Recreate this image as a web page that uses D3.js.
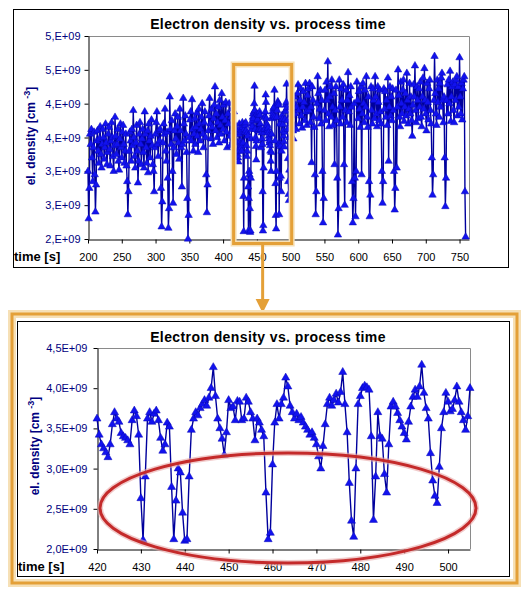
<!DOCTYPE html>
<html>
<head>
<meta charset="utf-8">
<style>
    body { margin: 0; background: #fff; }
    svg { display: block; font-family: 'Liberation Sans', Arial, sans-serif; }
</style>
</head>
<body>
<div id="chart"></div>
<script src="https://cdn.jsdelivr.net/npm/d3@7/dist/d3.min.js"></script>
<script>
    // electron density in 1e9 cm^-3
    // overview run, one reading per second, 200 s .. 419 s
    var overview_start = [
        3.00, 2.30, 2.75, 3.55, 3.40, 3.62, 3.20, 2.85, 3.35, 3.58,
        2.95, 2.40, 2.80, 3.45, 3.60, 3.30, 3.12, 3.48, 3.66, 3.25,
        3.05, 3.40, 3.62, 3.50, 3.18, 3.35, 3.70, 3.42, 3.10, 3.28,
        3.55, 3.65, 3.32, 3.08, 3.45, 3.72, 3.50, 3.22, 3.00, 3.38,
        3.80, 3.52, 3.25, 3.40, 3.62, 3.15, 3.02, 3.48, 3.70, 3.35,
        3.20, 3.58, 3.68, 3.40, 3.12, 3.30, 3.55, 3.08, 2.85, 2.36,
        2.70, 3.30, 3.58, 3.45, 3.15, 3.62, 3.38, 3.90, 3.50, 3.22,
        3.05, 3.42, 3.68, 3.30, 2.83, 3.15, 3.55, 3.72, 3.40, 3.10,
        3.48, 3.62, 3.28, 3.05, 3.88, 3.55, 3.35, 3.12, 3.60, 2.98,
        3.70, 3.45, 3.20, 3.52, 3.76, 3.38, 3.10, 3.00, 2.70, 3.35,
        3.55, 3.72, 3.88, 3.40, 3.22, 3.60, 3.45, 3.62, 2.75, 2.18,
        2.55, 3.42, 3.70, 3.55, 3.92, 3.30, 3.15, 3.58, 2.90, 2.16,
        2.45, 4.10, 3.62, 3.40, 3.75, 3.00, 2.53, 3.35, 3.60, 3.85,
        3.48, 3.25, 3.66, 3.80, 3.42, 3.18, 3.92, 3.60, 3.35, 2.77,
        3.40, 4.08, 3.70, 3.45, 3.82, 3.55, 3.28, 2.60, 2.00, 2.35,
        3.50, 3.76, 3.88, 3.45, 4.06, 3.62, 3.30, 3.55, 3.78, 3.40,
        3.65, 3.86, 3.52, 3.28, 3.92, 3.70, 3.45, 3.62, 3.80, 4.00,
        3.55, 3.35, 3.72, 3.88, 3.50, 2.95, 2.39, 2.80, 3.60, 3.82,
        4.08, 3.70, 3.48, 3.92, 3.65, 3.40, 3.78, 3.98, 4.25, 3.60,
        3.85, 3.50, 3.72, 3.95, 3.42, 4.05, 3.68, 3.55, 4.15, 3.80,
        3.62, 3.98, 3.45, 3.75, 4.02, 3.58, 3.35, 3.85, 3.70, 4.00,
        3.52, 3.38, 3.80, 3.92, 3.60, 3.45, 3.88, 3.70, 3.55, 3.45
    ];

    // zoomed window, one reading every 0.5 s, 420 s .. 505 s
    var zoom_density = [
        3.62, 3.42, 3.30, 3.25, 3.20, 3.14, 3.30, 3.55, 3.70, 3.62,
        3.58, 3.44, 3.40, 3.38, 3.35, 3.30, 3.60, 3.72, 3.65, 3.42,
        2.63, 2.11, 2.90, 3.62, 3.70, 3.58, 3.68, 3.72, 3.60, 3.38,
        3.22, 3.30, 3.57, 3.52, 2.77, 2.12, 2.60, 3.00, 2.95, 2.45,
        2.10, 2.12, 2.90, 3.48, 3.62, 3.70, 3.66, 3.75, 3.80, 3.85,
        3.78, 3.88, 4.00, 4.26, 3.90, 3.62, 3.50, 3.37, 3.17, 3.45,
        3.85, 3.75, 3.77, 3.60, 3.84, 3.83, 3.60, 3.62, 3.88, 3.83,
        3.70, 3.62, 3.35, 3.62, 3.57, 3.48, 3.40, 2.70, 2.12, 2.20,
        3.05, 3.57, 3.80, 3.62, 3.80, 3.88, 4.13, 4.02, 3.78, 3.70,
        3.62, 3.68, 3.60, 3.64, 3.57, 3.52, 3.48, 3.42, 3.45, 3.38,
        3.30, 3.15, 3.00, 3.28, 3.55, 3.80, 3.88, 3.78, 3.85, 3.93,
        3.82, 3.95, 4.20, 3.80, 3.45, 2.82, 2.35, 2.15, 3.00, 3.80,
        3.90, 4.00, 4.03, 4.01, 3.98, 3.40, 2.36, 2.90, 3.70, 3.40,
        3.37, 2.93, 2.70, 3.30, 3.77, 3.83, 3.77, 3.69, 3.60, 3.52,
        3.44, 3.36, 3.58, 3.77, 3.89, 3.98, 3.89, 4.02, 4.29, 3.94,
        3.75, 3.62, 3.19, 2.85, 2.66, 2.57, 3.02, 3.50, 3.70, 3.94,
        3.83, 3.71, 3.74, 3.85, 4.02, 3.83, 3.70, 3.60, 3.48, 3.65,
        4.00
    ];

    // overview run, one reading per second, 506 s .. 759 s
    var overview_end = [
        4.10, 3.85, 3.62, 3.95,
        4.15, 4.28, 3.90, 3.70, 4.05, 4.22, 3.82, 3.64, 3.95, 4.18,
        4.02, 3.75, 4.30, 3.88, 3.68, 4.12, 4.22, 3.90, 4.30, 3.72,
        3.95, 3.13, 4.25, 4.05, 3.80, 3.65, 2.95, 2.36, 2.70, 4.00,
        4.40, 4.15, 3.78, 3.92, 4.20, 3.70, 4.05, 3.00, 2.24, 2.60,
        3.90, 4.20, 3.75, 4.32, 4.05, 4.62, 3.85, 3.66, 4.10, 4.25,
        3.80, 4.35, 3.95, 3.68, 4.15, 3.10, 3.90, 4.25, 3.75, 2.90,
        2.06, 2.45, 4.35, 3.95, 3.70, 4.22, 4.05, 3.80, 4.28, 3.10,
        2.50, 3.90, 4.20, 3.72, 4.05, 4.46, 3.88, 4.12, 3.68, 4.25,
        3.95, 2.85, 2.24, 2.60, 4.00, 2.90, 2.33, 3.00, 4.32, 4.05,
        3.78, 4.18, 3.92, 3.65, 4.25, 2.95, 3.85, 4.30, 4.00, 3.72,
        4.20, 3.95, 4.40, 3.80, 3.65, 4.10, 2.85, 2.33, 2.65, 4.25,
        3.90, 3.70, 4.22, 4.05, 3.78, 4.40, 4.10, 3.85, 3.66, 4.25,
        4.02, 3.75, 4.20, 3.88, 3.70, 3.00, 2.53, 2.85, 4.22, 3.92,
        4.18, 3.80, 4.05, 3.68, 4.38, 3.15, 3.95, 4.25, 3.82, 4.10,
        3.75, 4.22, 3.90, 3.00, 2.43, 2.75, 4.20, 3.05, 3.95, 4.50,
        4.12, 3.80, 3.66, 4.32, 4.00, 3.85, 4.20, 4.35, 3.74, 3.95,
        4.15, 3.82, 4.45, 4.05, 3.70, 3.92, 4.30, 3.85, 4.10, 3.75,
        3.52, 3.98, 4.28, 4.10, 4.56, 3.90, 3.72, 4.25, 4.05, 3.78,
        4.22, 3.95, 4.32, 3.80, 3.66, 4.10, 4.38, 3.92, 4.52, 4.05,
        3.85, 3.60, 4.30, 4.02, 3.76, 4.22, 4.35, 3.90, 3.70, 3.20,
        2.65, 2.95, 4.05, 4.70, 4.15, 3.85, 3.68, 4.35, 4.02, 4.22,
        3.80, 4.30, 3.95, 4.38, 4.45, 4.05, 3.72, 4.10, 3.20, 2.48,
        2.90, 4.05, 4.28, 3.85, 4.35, 4.00, 4.48, 3.74, 4.10, 4.25,
        4.32, 3.90, 3.72, 4.28, 4.05, 4.35, 4.40, 3.82, 4.25, 3.95,
        4.68, 4.10, 3.85, 4.30, 3.76, 4.22, 4.35, 4.40, 2.70, 2.03
    ];

    var overview_start_t = 200,
        zoom_start_t = 420,
        zoom_step = 0.5,
        overview_end_t = 506;

    var top_x_ticks = [200, 250, 300, 350, 400, 450, 500, 550, 600, 650, 700, 750];
    var top_y_ticks = [2, 2.5, 3, 3.5, 4, 4.5, 5];
    var top_y_labels = ['2,E+09', '3,E+09', '3,E+09', '4,E+09', '4,E+09', '5,E+09', '5,E+09'];

    var zoom_x_ticks = [420, 430, 440, 450, 460, 470, 480, 490, 500];
    var zoom_y_ticks = [2, 2.5, 3, 3.5, 4, 4.5];
    var zoom_y_labels = ['2,0E+09', '2,5E+09', '3,0E+09', '3,5E+09', '4,0E+09', '4,5E+09'];

    var chart_title = 'Electron density vs. process time';

    var orange = '#e4a038',
        pale_orange = '#f6e0b6',
        navy = '#000080',
        line_blue = '#00009c',
        marker_fill = '#1212ee';

    var zoom_points = zoom_density.map(function(v, i){ return {t: zoom_start_t + i * zoom_step, v: v}; });
    var overview_points = overview_start.map(function(v, i){ return {t: overview_start_t + i, v: v}; })
        .concat(zoom_points)
        .concat(overview_end.map(function(v, i){ return {t: overview_end_t + i, v: v}; }));

    var svg = d3.select('#chart')
        .append('svg')
        .attr('width', 522)
        .attr('height', 591);

    svg.append('rect')
        .attr('width', 522)
        .attr('height', 591)
        .attr('fill', '#fff');

    function create_panel(cfg){
        var g = svg.append('g');

        g.append('rect')
            .attr('x', cfg.box[0] + 0.5)
            .attr('y', cfg.box[1] + 0.5)
            .attr('width', cfg.box[2])
            .attr('height', cfg.box[3])
            .attr('fill', '#fff')
            .attr('stroke', '#000')
            .attr('stroke-width', 1);

        var x = d3.scaleLinear().domain(cfg.x_domain).range([cfg.left, cfg.right]);
        var y = d3.scaleLinear().domain(cfg.y_domain).range([cfg.bottom, cfg.top]);

        // plot frame, grey top and right edge
        g.append('path')
            .attr('d', 'M' + cfg.left + ',' + (cfg.top + 0.5) + 'H' + (cfg.right + 0.5) + 'V' + cfg.bottom)
            .attr('fill', 'none')
            .attr('stroke', '#8a8a8a')
            .attr('stroke-width', 1);

        g.append('text')
            .attr('x', cfg.title_x)
            .attr('y', cfg.title_y)
            .attr('text-anchor', 'middle')
            .attr('font-size', 14)
            .attr('font-weight', 'bold')
            .attr('letter-spacing', 0.4)
            .attr('fill', '#000')
            .text(chart_title);

        var y_axis = g.append('g')
            .attr('transform', 'translate(' + (cfg.left + 0.5) + ',0)')
            .call(d3.axisLeft(y)
                .tickValues(cfg.y_ticks)
                .tickFormat(function(d, i){ return cfg.y_labels[i]; })
                .tickSize(4)
                .tickSizeOuter(0)
                .tickPadding(cfg.y_pad));
        y_axis.selectAll('text')
            .attr('font-size', 11)
            .attr('font-family', "'Liberation Sans', Arial, sans-serif")
            .attr('fill', navy);

        var x_axis = g.append('g')
            .attr('transform', 'translate(0,' + (cfg.bottom + 0.5) + ')')
            .call(d3.axisBottom(x)
                .tickValues(cfg.x_ticks)
                .tickSize(4)
                .tickSizeOuter(0)
                .tickPadding(10));
        x_axis.selectAll('text')
            .attr('font-size', 11)
            .attr('font-family', "'Liberation Sans', Arial, sans-serif")
            .attr('fill', '#000');

        var line = d3.line()
            .x(function(d){ return x(d.t); })
            .y(function(d){ return y(d.v); });

        g.append('path')
            .datum(cfg.points)
            .attr('d', line)
            .attr('fill', 'none')
            .attr('stroke', line_blue)
            .attr('stroke-width', cfg.line_width);

        var triangle = d3.symbol().type(d3.symbolTriangle).size(cfg.marker_size);

        g.selectAll('path.marker')
            .data(cfg.points)
            .enter().append('path')
            .attr('class', 'marker')
            .attr('d', triangle)
            .attr('transform', function(d){ return 'translate(' + x(d.t) + ',' + y(d.v) + ')'; })
            .attr('fill', marker_fill)
            .attr('stroke', '#0808b8')
            .attr('stroke-width', 0.5);

        var ylab = g.append('text')
            .attr('transform', 'translate(' + cfg.ylabel[0] + ',' + cfg.ylabel[1] + ') rotate(-90)')
            .attr('text-anchor', 'middle')
            .attr('font-size', 12)
            .attr('font-weight', 'bold')
            .attr('fill', navy);
        ylab.append('tspan').text('el. density [cm ');
        ylab.append('tspan').attr('font-size', 9).attr('dy', -5).text('-3');
        ylab.append('tspan').attr('dy', 5).text(']');

        g.append('text')
            .attr('x', cfg.xlabel[0])
            .attr('y', cfg.xlabel[1])
            .attr('font-size', 13)
            .attr('font-weight', 'bold')
            .attr('fill', '#000')
            .text('time [s]');

        return {x: x, y: y, g: g};
    }

    var top_panel = create_panel({
        box: [13, 9, 495, 258],
        left: 88, right: 469, top: 36, bottom: 239,
        x_domain: [200, 764], y_domain: [2, 5],
        x_ticks: top_x_ticks, y_ticks: top_y_ticks, y_labels: top_y_labels, y_pad: 4,
        points: overview_points, marker_size: 24, line_width: 1.4,
        title_x: 268, title_y: 29,
        ylabel: [35, 136], xlabel: [14, 261]
    });

    var zoom_panel = create_panel({
        box: [17, 321, 492, 255],
        left: 97, right: 470, top: 348, bottom: 549,
        x_domain: [420, 505], y_domain: [2, 4.5],
        x_ticks: zoom_x_ticks, y_ticks: zoom_y_ticks, y_labels: zoom_y_labels, y_pad: 6,
        points: zoom_points, marker_size: 28, line_width: 1.4,
        title_x: 268, title_y: 342,
        ylabel: [39, 446], xlabel: [18, 571]
    });

    // highlight box on the overview, spanning the zoomed window
    var bx0 = top_panel.x(zoom_x_ticks[0]) - 3,
        bx1 = top_panel.x(zoom_x_ticks[zoom_x_ticks.length - 1]) + 1;

    [[pale_orange, 6], [orange, 3]].forEach(function(s){
        svg.append('rect')
            .attr('x', bx0)
            .attr('y', 64.5)
            .attr('width', bx1 - bx0)
            .attr('height', 179)
            .attr('fill', 'none')
            .attr('stroke', s[0])
            .attr('stroke-width', s[1]);
    });

    var ax = (bx0 + bx1) / 2;
    svg.append('line')
        .attr('x1', ax).attr('x2', ax)
        .attr('y1', 245).attr('y2', 302)
        .attr('stroke', orange)
        .attr('stroke-width', 3);
    svg.append('path')
        .attr('d', 'M' + (ax - 7) + ',299L' + (ax + 7) + ',299L' + ax + ',313Z')
        .attr('fill', orange);

    // frame round the zoomed chart
    [[pale_orange, 8], [orange, 3]].forEach(function(s){
        svg.append('rect')
            .attr('x', 12)
            .attr('y', 314)
            .attr('width', 505)
            .attr('height', 269)
            .attr('fill', 'none')
            .attr('stroke', s[0])
            .attr('stroke-width', s[1]);
    });
    svg.append('rect')
        .attr('x', 17.5).attr('y', 321.5)
        .attr('width', 492).attr('height', 255)
        .attr('fill', 'none')
        .attr('stroke', '#000');

    // red ellipse round the dips
    [['#e8a8a8', 6, 0.6], ['#c42a2a', 3, 1]].forEach(function(s){
        svg.append('ellipse')
            .attr('cx', 288)
            .attr('cy', 508)
            .attr('rx', 188)
            .attr('ry', 55)
            .attr('fill', 'none')
            .attr('stroke', s[0])
            .attr('stroke-width', s[1])
            .attr('opacity', s[2]);
    });
</script>
</body>
</html>
